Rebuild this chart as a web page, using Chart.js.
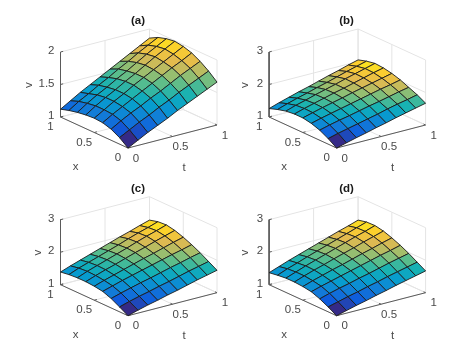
<!DOCTYPE html>
<html>
<head>
<meta charset="utf-8">
<title>Surface plots</title>
<script src="https://cdn.jsdelivr.net/npm/chart.js@4"></script>
<style>
  html, body { margin: 0; padding: 0; background: #fff; width: 474px; height: 355px; overflow: hidden; }
  canvas { position: absolute; }
</style>
</head>
<body>
<script>
const panelTitles = ["(a)", "(b)", "(c)", "(d)"];
const tValues = [0, 0.111, 0.222, 0.333, 0.444, 0.556, 0.667, 0.778, 0.889, 1];
const xValues = [0, 0.125, 0.25, 0.375, 0.5, 0.625, 0.75, 0.875, 1];
const tTicks = [0, 0.5, 1];
const xTicks = [0, 0.5, 1];
const vTicksA = [1, 1.5, 2];
const vTicksOther = [1, 2, 3];

// v, one row per t, one column per x
const surfaceA = [
  [1.00, 1.10, 1.17, 1.21, 1.22, 1.21, 1.19, 1.16, 1.12],
  [1.08, 1.18, 1.26, 1.30, 1.31, 1.31, 1.29, 1.26, 1.21],
  [1.16, 1.26, 1.34, 1.38, 1.40, 1.40, 1.38, 1.34, 1.30],
  [1.23, 1.33, 1.41, 1.46, 1.48, 1.48, 1.46, 1.43, 1.38],
  [1.30, 1.41, 1.49, 1.54, 1.57, 1.57, 1.55, 1.51, 1.46],
  [1.38, 1.48, 1.56, 1.62, 1.65, 1.65, 1.63, 1.60, 1.54],
  [1.45, 1.56, 1.64, 1.70, 1.73, 1.74, 1.72, 1.68, 1.62],
  [1.52, 1.63, 1.72, 1.78, 1.81, 1.83, 1.81, 1.77, 1.70],
  [1.59, 1.70, 1.79, 1.85, 1.89, 1.91, 1.89, 1.85, 1.78],
  [1.66, 1.77, 1.86, 1.93, 1.97, 1.99, 1.97, 1.93, 1.86]
];
const surfaceB = [
  [1.00, 1.17, 1.31, 1.40, 1.45, 1.45, 1.42, 1.35, 1.26],
  [1.08, 1.25, 1.39, 1.48, 1.53, 1.54, 1.52, 1.45, 1.36],
  [1.16, 1.32, 1.46, 1.55, 1.61, 1.62, 1.60, 1.54, 1.45],
  [1.23, 1.39, 1.52, 1.62, 1.68, 1.70, 1.69, 1.62, 1.54],
  [1.31, 1.46, 1.59, 1.69, 1.75, 1.78, 1.77, 1.71, 1.62],
  [1.38, 1.53, 1.66, 1.76, 1.83, 1.85, 1.85, 1.79, 1.71],
  [1.46, 1.61, 1.72, 1.83, 1.90, 1.93, 1.94, 1.88, 1.80],
  [1.53, 1.68, 1.79, 1.90, 1.97, 2.01, 2.02, 1.97, 1.88],
  [1.60, 1.74, 1.86, 1.96, 2.04, 2.09, 2.10, 2.05, 1.97],
  [1.67, 1.81, 1.92, 2.03, 2.11, 2.16, 2.18, 2.13, 2.05]
];
const surfaceC = [
  [1.00, 1.15, 1.29, 1.39, 1.43, 1.45, 1.45, 1.43, 1.39],
  [1.09, 1.24, 1.38, 1.48, 1.53, 1.56, 1.57, 1.55, 1.50],
  [1.17, 1.32, 1.46, 1.57, 1.62, 1.66, 1.67, 1.65, 1.60],
  [1.24, 1.39, 1.54, 1.65, 1.71, 1.75, 1.77, 1.75, 1.70],
  [1.32, 1.47, 1.61, 1.73, 1.80, 1.85, 1.87, 1.85, 1.80],
  [1.39, 1.54, 1.69, 1.81, 1.89, 1.95, 1.97, 1.95, 1.90],
  [1.47, 1.62, 1.77, 1.89, 1.97, 2.04, 2.08, 2.06, 2.00],
  [1.55, 1.70, 1.84, 1.97, 2.06, 2.14, 2.18, 2.16, 2.09],
  [1.62, 1.77, 1.92, 2.04, 2.15, 2.23, 2.27, 2.25, 2.19],
  [1.69, 1.84, 1.99, 2.12, 2.23, 2.32, 2.37, 2.35, 2.28]
];
const surfaceD = [
  [1.00, 1.15, 1.28, 1.38, 1.42, 1.44, 1.44, 1.41, 1.37],
  [1.08, 1.23, 1.37, 1.47, 1.52, 1.55, 1.55, 1.53, 1.48],
  [1.16, 1.31, 1.45, 1.55, 1.61, 1.65, 1.66, 1.63, 1.59],
  [1.23, 1.38, 1.52, 1.63, 1.70, 1.74, 1.76, 1.74, 1.69],
  [1.31, 1.46, 1.60, 1.71, 1.78, 1.84, 1.86, 1.84, 1.79],
  [1.38, 1.53, 1.67, 1.79, 1.87, 1.93, 1.96, 1.94, 1.89],
  [1.46, 1.61, 1.75, 1.87, 1.96, 2.02, 2.06, 2.04, 1.99],
  [1.53, 1.68, 1.83, 1.95, 2.04, 2.12, 2.16, 2.14, 2.09],
  [1.60, 1.75, 1.90, 2.02, 2.13, 2.21, 2.25, 2.24, 2.18],
  [1.67, 1.82, 1.97, 2.10, 2.21, 2.30, 2.35, 2.34, 2.28]
];

const parula = [
  [53, 42, 135], [15, 92, 221], [18, 125, 216], [7, 156, 207], [21, 177, 180],
  [89, 189, 140], [165, 190, 106], [225, 185, 80], [252, 206, 46], [249, 251, 14]
];

function parulaColor(f) {
  const p = Math.min(0.9999, Math.max(0, f)) * (parula.length - 1);
  const i = Math.floor(p), k = p - i;
  const c = parula[i].map((a, n) => Math.round(a + (parula[i + 1][n] - a) * k));
  return `rgb(${c[0]},${c[1]},${c[2]})`;
}

function drawPanel(col, row, title, surface, vTicks, vLabelX) {
  const canvas = document.createElement("canvas");
  canvas.width = 237;
  canvas.height = 178;
  canvas.style.left = col * 208 + "px";
  canvas.style.top = row * 168 + "px";
  document.body.appendChild(canvas);

  const frontX = 128 + col * 0.6;
  const frontY = 148 - row * 0.3;
  const vMin = vTicks[0], vMax = vTicks[vTicks.length - 1];
  const flat = surface.flat();
  const cMin = Math.min(...flat), cMax = Math.max(...flat);

  // simple axonometric view, same for every panel
  const project = (t, x, v) => ({
    x: frontX + 89 * t - 67.5 * x,
    y: frontY - 23 * t - 31 * x - 65 * (v - vMin) / (vMax - vMin)
  });
  const line = (pts, color, width) => ({
    data: pts, showLine: true, fill: false, pointRadius: 0,
    borderColor: color, borderWidth: width, tension: 0
  });

  const sets = [];
  const grid = "#e4e4e4", axis = "#5a5a5a";

  // back walls and floor
  vTicks.forEach(v => {
    sets.push(line([project(0, 1, v), project(1, 1, v), project(1, 0, v)], grid, 1));
  });
  tTicks.forEach(t => {
    sets.push(line([project(t, 0, vMin), project(t, 1, vMin), project(t, 1, vMax)], grid, 1));
  });
  xTicks.forEach(x => {
    sets.push(line([project(0, x, vMin), project(1, x, vMin), project(1, x, vMax)], grid, 1));
  });

  // axes and their ticks
  sets.push(line([project(0, 1, vMax), project(0, 1, vMin), project(0, 0, vMin), project(1, 0, vMin)], axis, 1));
  vTicks.forEach(v => sets.push(line([project(0, 1, v), project(0.03, 1, v)], axis, 1)));
  xTicks.forEach(x => sets.push(line([project(0, x, vMin), project(0.03, x, vMin)], axis, 1)));
  tTicks.forEach(t => sets.push(line([project(t, 0, vMin), project(t, 0.03, vMin)], axis, 1)));

  // faces, far corner first. colour from the lowest index vertex like surf()
  for (let i = tValues.length - 2; i >= 0; i--) {
    for (let j = xValues.length - 2; j >= 0; j--) {
      sets.push({
        data: [
          project(tValues[i], xValues[j], surface[i][j]),
          project(tValues[i + 1], xValues[j], surface[i + 1][j]),
          project(tValues[i + 1], xValues[j + 1], surface[i + 1][j + 1]),
          project(tValues[i], xValues[j + 1], surface[i][j + 1]),
          project(tValues[i], xValues[j], surface[i][j])
        ],
        showLine: true, fill: "shape", pointRadius: 0, tension: 0,
        backgroundColor: parulaColor((surface[i][j] - cMin) / (cMax - cMin)),
        borderColor: "#1c1c1c", borderWidth: 0.9
      });
    }
  }

  const textPlugin = {
    id: "panelText",
    afterDatasetsDraw(chart) {
      const c = chart.ctx, sx = chart.scales.x, sy = chart.scales.y;
      const put = (s, px, py, font, color, align, rot) => {
        c.save();
        c.translate(sx.getPixelForValue(px), sy.getPixelForValue(py));
        if (rot) c.rotate(rot);
        c.font = font;
        c.fillStyle = color;
        c.textAlign = align || "center";
        c.textBaseline = "middle";
        c.fillText(s, 0, 0);
        c.restore();
      };
      const tickFont = "11.5px 'Liberation Sans', Arial, sans-serif";
      const gray = "#4a4a4a";
      const leftX = frontX - 67.5, leftY = frontY - 31;
      put(title, frontX + 10, frontY - 127, "bold 11.5px 'Liberation Sans', Arial, sans-serif", "#1a1a1a");
      vTicks.forEach(v => {
        const p = project(0, 1, v);
        put(String(v), p.x - 6, p.y - 1, tickFont, gray, "right");
      });
      xTicks.forEach(x => {
        const p = project(0, x, vMin);
        put(String(x), p.x - 10, p.y + 10, tickFont, gray);
      });
      tTicks.forEach(t => {
        const p = project(t, 0, vMin);
        put(String(t), p.x + 8, p.y + 10.5, tickFont, gray);
      });
      put("x", leftX + 15, leftY + 50, tickFont, gray);
      put("t", frontX + 56, frontY + 20, tickFont, gray);
      put("v", leftX + vLabelX, leftY - 32, tickFont, gray, "center", -Math.PI / 2);
    }
  };

  new Chart(canvas, {
    type: "scatter",
    data: { datasets: sets.reverse() },
    plugins: [textPlugin],
    options: {
      responsive: false,
      animation: false,
      events: [],
      layout: { padding: 0 },
      plugins: { legend: { display: false }, tooltip: { enabled: false } },
      scales: {
        x: { type: "linear", display: false, min: 0, max: 237 },
        y: { type: "linear", display: false, min: 0, max: 178, reverse: true }
      }
    }
  });
}

drawPanel(0, 0, panelTitles[0], surfaceA, vTicksA, -32);
drawPanel(1, 0, panelTitles[1], surfaceB, vTicksOther, -24);
drawPanel(0, 1, panelTitles[2], surfaceC, vTicksOther, -23);
drawPanel(1, 1, panelTitles[3], surfaceD, vTicksOther, -24);
</script>
</body>
</html>
